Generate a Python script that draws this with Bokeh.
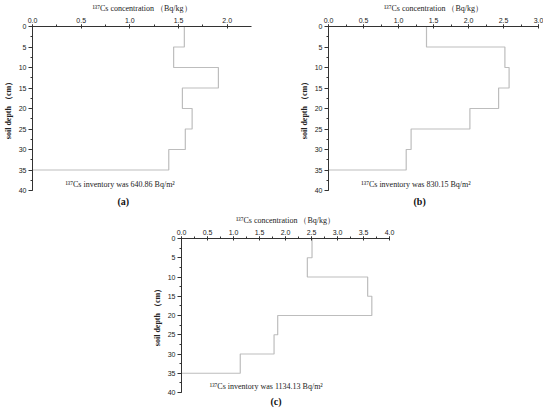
from bokeh.plotting import figure
from bokeh.models import Range1d, Label, Title, Spacer, PrintfTickFormatter, FixedTicker
from bokeh.layouts import column, row
from bokeh.embed import file_html
from bokeh.resources import INLINE
import numpy as np

# profondeurs (cm) et concentrations en 137Cs (Bq/kg) par couche de 5 cm
depth_edges = [0, 5, 10, 15, 20, 25, 30, 35]
conc_a = [1.56, 1.45, 1.91, 1.54, 1.64, 1.57, 1.40]
conc_b = [1.40, 2.52, 2.58, 2.43, 2.02, 1.18, 1.11]
conc_c = [2.51, 2.42, 3.58, 3.66, 1.85, 1.78, 1.13]

inventory_a = "640.86"
inventory_b = "830.15"
inventory_c = "1134.13"

depth_ticks = [0, 5, 10, 15, 20, 25, 30, 35, 40]

SERIF = "Liberation Serif"
SANS = "Liberation Sans"


def profil(values):
    # escalier vertical : chaque couche est un segment vertical, puis retour à 0
    xs = list(np.repeat(values, 2)) + [0]
    ys = [depth_edges[0]]
    for d in depth_edges[1:-1]:
        ys += [d, d]
    ys += [depth_edges[-1], depth_edges[-1]]
    return xs, ys


def panneau(values, xmax, xticks, inventory, lettre, lab_x, fw, fh,
            left, right, top, bottom, letter_offset, letter_standoff):
    p = figure(frame_width=fw, frame_height=fh, output_backend="svg", toolbar_location=None,
               x_range=Range1d(0, xmax), y_range=Range1d(40, 0),
               x_axis_location="above",
               min_border_left=left, min_border_right=right,
               min_border_top=top, min_border_bottom=bottom)
    p.outline_line_color = None
    p.grid.visible = False

    xs, ys = profil(values)
    p.line(xs, ys, line_color="#bdbdbd", line_width=1.2)

    xa = p.xaxis[0]
    xa.ticker = FixedTicker(ticks=xticks,
                            minor_ticks=list(np.arange(0, xticks[-1] + 0.01, 0.25)))
    xa.formatter = PrintfTickFormatter(format="%.1f")
    xa.axis_label = "¹³⁷Cs concentration （Bq/kg）"
    xa.axis_label_text_font = SERIF
    xa.axis_label_text_font_size = "8px"
    xa.axis_label_text_font_style = "normal"
    xa.axis_label_standoff = 2
    xa.major_label_text_font = SANS
    xa.major_label_text_font_size = "7px"
    xa.major_label_standoff = 2
    xa.major_tick_in = 2
    xa.major_tick_out = 2
    xa.minor_tick_in = 0
    xa.minor_tick_out = 2

    ya = p.yaxis[0]
    ya.ticker = FixedTicker(ticks=depth_ticks,
                            minor_ticks=list(np.arange(0, 40.1, 2.5)))
    ya.axis_label = "soil depth （cm）"
    ya.axis_label_text_font = SERIF
    ya.axis_label_text_font_size = "8px"
    ya.axis_label_text_font_style = "bold"
    ya.axis_label_standoff = 3
    ya.major_label_text_font = SANS
    ya.major_label_text_font_size = "7px"
    ya.major_label_standoff = 2
    ya.major_tick_in = 0
    ya.major_tick_out = 4
    ya.minor_tick_in = 0
    ya.minor_tick_out = 2

    for ax in (xa, ya):
        ax.axis_line_color = "#333333"
        ax.major_tick_line_color = "#333333"
        ax.minor_tick_line_color = "#333333"
        ax.major_label_text_color = "#222222"
        ax.axis_label_text_color = "#222222"

    p.add_layout(Label(x=lab_x, y=38.5, text="¹³⁷Cs inventory was %s Bq/m²" % inventory,
                       text_font=SERIF, text_font_size="8px", text_align="center",
                       text_baseline="middle", text_color="#222222"))
    p.add_layout(Title(text="(%s)" % lettre, align="left", offset=letter_offset,
                       text_font=SERIF, text_font_size="10px", text_font_style="bold",
                       text_color="#111111", standoff=letter_standoff), "below")
    return p


pa = panneau(conc_a, 2.25, [0, 0.5, 1.0, 1.5, 2.0], inventory_a, "a", 0.9,
             219, 164, 23, 30, 20, 22, 85, 6)
pb = panneau(conc_b, 3.0, [0, 0.5, 1.0, 1.5, 2.0, 2.5, 3.0], inventory_b, "b", 1.25,
             210, 164, 47, 5, 20, 22, 85, 6)
pc = panneau(conc_c, 4.0, [0, 0.5, 1.0, 1.5, 2.0, 2.5, 3.0, 3.5, 4.0], inventory_c, "c", 1.63,
             208, 154, 23, 12, 24, 20, 89, 3)

layout = column(row(pa, pb), row(Spacer(width=149, height=198), pc))

open("out.html", "w").write(file_html(layout, INLINE))
